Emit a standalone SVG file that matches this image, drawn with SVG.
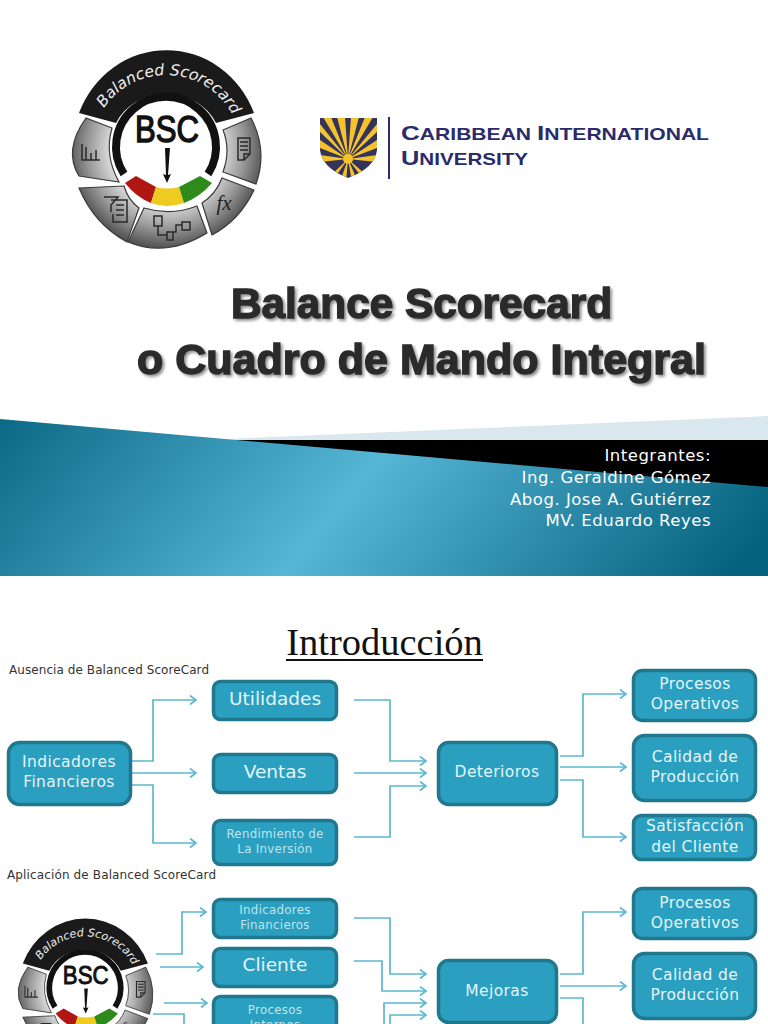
<svg xmlns="http://www.w3.org/2000/svg" xmlns:xlink="http://www.w3.org/1999/xlink" width="768" height="1024" viewBox="0 0 768 1024">
<style>
.box{fill:#2a9fbf;stroke:#20788f;stroke-width:3.500}
.t{font-family:"DejaVu Sans",sans-serif;fill:#e4f5fa;text-anchor:middle}
.l{font-size:18.500px}.m{font-size:15.500px;letter-spacing:.4px}.s{font-size:11.800px;fill:#bfe5ef;letter-spacing:.3px}
.cap{font-family:"DejaVu Sans",sans-serif;font-size:12px;fill:#333}
.c{fill:none;stroke:#5cb7d1;stroke-width:1.7}
.a{marker-end:url(#arr)}
.seg{fill:url(#gray);stroke:#3a3a3a;stroke-width:1.200}
.ic{fill:none;stroke:#2a2a2a;stroke-width:1.500}
.who{font-family:"DejaVu Sans",sans-serif;font-size:16.500px;fill:#fff;text-anchor:end;letter-spacing:.5px}
.ttl{font-family:"Liberation Sans",Arial,sans-serif;font-weight:700;font-size:42px;fill:#2b2b2b;stroke:#2b2b2b;stroke-width:1.400;filter:url(#sh)}
.cu{font-family:"Liberation Sans",Arial,sans-serif;font-weight:700;fill:#2b2a6b}
</style>
<defs>
<filter id="sh" x="-5%" y="-20%" width="110%" height="150%"><feDropShadow dx="2" dy="2" stdDeviation="1.5" flood-color="#000" flood-opacity=".45"/></filter>
<linearGradient id="teal" gradientUnits="userSpaceOnUse" x1="60" y1="298" x2="590" y2="748">
<stop offset="0" stop-color="#04617d"/><stop offset=".5" stop-color="#56b6d6"/><stop offset="1" stop-color="#04617d"/></linearGradient>
<radialGradient id="gray" gradientUnits="userSpaceOnUse" cx="0" cy="0" r="100"><stop offset=".55" stop-color="#dedede"/><stop offset=".78" stop-color="#999"/><stop offset="1" stop-color="#4c4c4c"/></radialGradient>
<marker id="arr" markerUnits="userSpaceOnUse" markerWidth="10" markerHeight="12" refX="7" refY="5.500" orient="auto"><path d="M1,1 L7,5.500 L1,10" fill="none" stroke="#5cb7d1" stroke-width="1.700"/></marker>
<clipPath id="shield"><path d="M320,118H377V150Q375,168 348,178Q322,168 320,150Z"/></clipPath>
<path id="arcT" d="M-62,-42 A75,75 0 0 1 66,-36"/>
<g id="logo">
<path d="M-54,-22L-80,-32Q-103,0 -87,26L-47,32Q-62,5 -54,-22Z" class="seg"/>
<path d="M-87,38L-42,36Q-38,50 -27,58L-39,92Q-72,74 -87,38Z" class="seg"/>
<path d="M-22,58Q5,66 31,56L41,83Q0,108 -38,92Z" class="seg"/>
<path d="M36,53Q50,44 56,28L88,40Q74,70 46,85Z" class="seg"/>
<path d="M57,-20L85,-32Q102,0 90,34L57,22Q65,0 57,-20Z" class="seg"/>
<circle cx="0" cy="-4" r="47" fill="#fff"/>
<path d="M-87,-37A94,99 0 0 1 88,-37L50,-27A55,50 0 0 0 -50,-27Z" fill="#1a1a1a"/>
<path d="M-42,24A50,50 0 1 1 42,24" fill="none" stroke="#111" stroke-width="8"/>
<path d="M-41,33L-30,26L-10,37L-15,53Q-30,47 -41,33Z" fill="#b01712"/>
<path d="M-10,37Q1,40 13,37L18,53Q1,59 -15,53Z" fill="#eecb1f"/>
<path d="M13,37L34,26L46,33Q34,47 18,53Z" fill="#2f8a1c"/>
<text font-family="'Liberation Sans',sans-serif" font-size="37" fill="#111" stroke="#111" stroke-width="1.400" text-anchor="middle" x="1" y="-8" textLength="64" lengthAdjust="spacingAndGlyphs">BSC</text>
<path d="M-1,-2H4L2,25L5,24L1,33L-3,24L0,25Z" fill="#111"/>
<text font-family="'DejaVu Sans',sans-serif" font-style="italic" font-size="15.500" fill="#eee"><textPath href="#arcT" xlink:href="#arcT">Balanced Scorecard</textPath></text>
<path d="M-84,-6V10H-66M-80,10V-3M-75,10V3M-70,10V0" class="ic"/>
<path d="M-62,47L-48,47L-55,55V62M-55,50H-39V72H-53V64M-50,55H-42M-50,60H-42M-50,65H-42" class="ic"/>
<path d="M-12,66H-4V76H-12ZM16,72H24V80H16ZM1,82H7V90H1ZM-8,76V85H1M7,82H10V75H16" class="ic"/>
<text x="58" y="60" font-family="'Liberation Serif',serif" font-style="italic" font-size="21" fill="#222" text-anchor="middle">fx</text>
<path d="M72,-12H84V4L78,10H72ZM74,-8H82M74,-4H82M74,0H82M78,10V4H84" class="ic"/>
</g>
</defs>

<rect width="768" height="1024" fill="#fff"/>
<g id="slide-band">
<path d="M225,439L768,416V441H225Z" fill="#d9e8ef"/>
<path d="M225,440H768V488H225Z" fill="#000"/>
<path d="M0,419L768,487V576H0Z" fill="url(#teal)"/>
</g>
<use href="#logo" xlink:href="#logo" transform="translate(166,150)"/>
<g id="university-logo">
<path d="M320,118H377V150Q375,168 348,178Q322,168 320,150Z" fill="#34345a"/>
<g clip-path="url(#shield)" fill="#f4c22c">
<path d="M348,159L323,117H331ZM348,159L337,117H345ZM348,159L351,117H359ZM348,159L365,117H373ZM348,159L320,124V132ZM348,159L320,140V148ZM348,159L320,155V162ZM348,159L377,124V132ZM348,159L377,140V148ZM348,159L377,155V162ZM348,159L326,180H333ZM348,159L340,182H346ZM348,159L352,182H358ZM348,159L364,180H372Z"/>
<circle cx="348" cy="159" r="5"/>
</g>
<rect x="388" y="117" width="2" height="62" fill="#2b2a6b"/>
<text class="cu" x="401" y="140" font-size="21" textLength="308" lengthAdjust="spacingAndGlyphs">C<tspan font-size="17">ARIBBEAN </tspan>I<tspan font-size="17">NTERNATIONAL</tspan></text>
<text class="cu" x="401" y="165" font-size="21" textLength="127" lengthAdjust="spacingAndGlyphs">U<tspan font-size="17">NIVERSITY</tspan></text>
</g>
<text class="ttl" x="421.500" y="318" text-anchor="middle" textLength="381" lengthAdjust="spacingAndGlyphs">Balance Scorecard</text>
<text class="ttl" x="421.500" y="374" text-anchor="middle" textLength="569" lengthAdjust="spacingAndGlyphs">o Cuadro de Mando Integral</text>
<g id="integrantes">
<text class="who" x="711" y="461">Integrantes:</text>
<text class="who" x="711" y="483">Ing. Geraldine Gómez</text>
<text class="who" x="711" y="505">Abog. Jose A. Gutiérrez</text>
<text class="who" x="711" y="526">MV. Eduardo Reyes</text>
</g>

<text x="384.500" y="655" font-family="'Liberation Serif',serif" font-size="38.500" fill="#111" text-anchor="middle">Introducción</text>
<rect x="286" y="659" width="197" height="2" fill="#111"/>
<text class="cap" x="9" y="674" textLength="200">Ausencia de Balanced ScoreCard</text>
<text class="cap" x="7" y="879" textLength="209">Aplicación de Balanced ScoreCard</text>
<use href="#logo" xlink:href="#logo" transform="translate(85,990) scale(.715)"/>

<g id="connectors">
<path class="c a" d="M132,761H153V700H196"/>
<path class="c a" d="M132,773H196"/>
<path class="c a" d="M132,785H153V843H196"/>
<path class="c a" d="M354,700H390V761H426"/>
<path class="c a" d="M354,773H426"/>
<path class="c a" d="M354,837H390V786H426"/>
<path class="c a" d="M560,756H583V694H626"/>
<path class="c a" d="M560,767H626"/>
<path class="c a" d="M560,780H583V837H626"/>
<path class="c a" d="M156,954H182V912H206"/>
<path class="c a" d="M160,967H203"/>
<path class="c a" d="M164,1003H207"/>
<path class="c" d="M153,1014H184V1024"/>
<path class="c a" d="M354,918H390V974H426"/>
<path class="c a" d="M354,961H382V991H426"/>
<path class="c a" d="M384,1024V1003H426"/>
<path class="c a" d="M390,1024V1015H426"/>
<path class="c a" d="M560,974H583V912H626"/>
<path class="c a" d="M560,986H626"/>
<path class="c" d="M560,998H583V1024"/>
</g>

<g id="n-indicadores"><rect class="box" x="8.500" y="742.500" width="122" height="62" rx="11"/><text class="t m" x="69" y="767">Indicadores</text><text class="t m" x="69" y="787">Financieros</text></g>
<g id="n-utilidades"><rect class="box" x="213.500" y="681.500" width="123" height="38" rx="7"/><text class="t l" x="275" y="705">Utilidades</text></g>
<g id="n-ventas"><rect class="box" x="213.500" y="754.500" width="123" height="38" rx="7"/><text class="t l" x="275" y="778">Ventas</text></g>
<g id="n-rendimiento"><rect class="box" x="213.500" y="820.500" width="123" height="44" rx="7"/><text class="t s" x="275" y="838">Rendimiento de</text><text class="t s" x="275" y="853">La Inversión</text></g>
<g id="n-deterioros"><rect class="box" x="438.500" y="742.500" width="118" height="62" rx="10"/><text class="t m" x="497" y="777">Deterioros</text></g>
<g id="n-procesos1"><rect class="box" x="633.500" y="670.500" width="122" height="50" rx="9"/><text class="t m" x="695" y="689">Procesos</text><text class="t m" x="695" y="709">Operativos</text></g>
<g id="n-calidad1"><rect class="box" x="633.500" y="735.500" width="122" height="65" rx="11"/><text class="t m" x="695" y="762">Calidad de</text><text class="t m" x="695" y="782">Producción</text></g>
<g id="n-satisfaccion"><rect class="box" x="633.500" y="815.500" width="122" height="44" rx="8"/><text class="t m" x="695" y="831">Satisfacción</text><text class="t m" x="695" y="852">del Cliente</text></g>
<g id="n-indicadores2"><rect class="box" x="213.500" y="899.500" width="123" height="38" rx="7"/><text class="t s" x="275" y="914">Indicadores</text><text class="t s" x="275" y="929">Financieros</text></g>
<g id="n-cliente"><rect class="box" x="213.500" y="948.500" width="123" height="38" rx="7"/><text class="t l" x="275" y="971">Cliente</text></g>
<g id="n-internos"><rect class="box" x="213.500" y="996.500" width="123" height="50" rx="7"/><text class="t s" x="275" y="1014">Procesos</text><text class="t s" x="275" y="1029">Internos</text></g>
<g id="n-mejoras"><rect class="box" x="438.500" y="960.500" width="118" height="62" rx="10"/><text class="t m" x="497" y="996">Mejoras</text></g>
<g id="n-procesos2"><rect class="box" x="633.500" y="888.500" width="122" height="50" rx="9"/><text class="t m" x="695" y="908">Procesos</text><text class="t m" x="695" y="928">Operativos</text></g>
<g id="n-calidad2"><rect class="box" x="633.500" y="953.500" width="122" height="65" rx="11"/><text class="t m" x="695" y="980">Calidad de</text><text class="t m" x="695" y="1000">Producción</text></g>
</svg>
